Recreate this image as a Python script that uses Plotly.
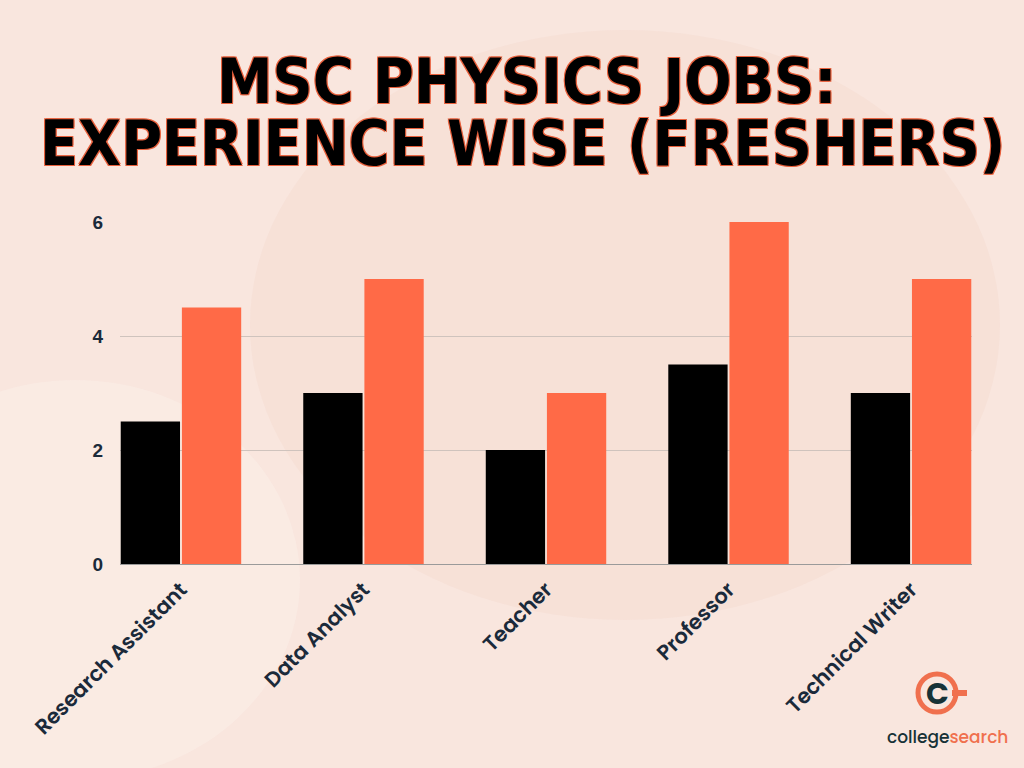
import plotly.graph_objects as go

categories = ["Research Assistant", "Data Analyst", "Teacher", "Professor", "Technical Writer"]
series_min = [2.5, 3, 2, 3.5, 3]
series_max = [4.5, 5, 3, 6, 5]
y_ticks = [0, 2, 4, 6]

W, H = 1024, 768
L, R, T, B = 120, 52, 222, 204

def px(x):
    return (x - L) / (W - L - R)

def py(y):
    return (H - B - y) / (H - T - B)

fig = go.Figure()
fig.add_trace(go.Bar(x=categories, y=series_min, name="Minimum", marker=dict(color="#000000", line=dict(width=0))))
fig.add_trace(go.Bar(x=categories, y=series_max, name="Maximum", marker=dict(color="#ff6a47", line=dict(width=0))))

title_font = dict(family="DejaVu Sans Condensed, DejaVu Sans, sans-serif",
                  size=62, color="#000000", weight="bold",
                  shadow="1px 1px 0 #e8603c, -1px -1px 0 #e8603c, 1px -1px 0 #e8603c, -1px 1px 0 #e8603c")

def cond(s):
    return "<span style='font-stretch:condensed'>" + s + "</span>"

annotations = [
    dict(text=cond("MSC PHYSICS JOBS:"), x=px(527), y=py(81), xref="paper", yref="paper",
         showarrow=False, font=title_font, xanchor="center", yanchor="middle"),
    dict(text=cond("EXPERIENCE WISE (FRESHERS)"), x=px(522), y=py(143), xref="paper", yref="paper",
         showarrow=False, font=title_font, xanchor="center", yanchor="middle"),
    dict(text="C", x=px(937), y=py(693), xref="paper", yref="paper", showarrow=False,
         font=dict(family="Poppins, Lato, Open Sans, sans-serif", size=30, color="#173237", weight="bold"),
         xanchor="center", yanchor="middle"),
    dict(text="<span style='color:#173237'>college</span><span style='color:#f0704e'>search</span>",
         x=px(947), y=py(737), xref="paper", yref="paper", showarrow=False,
         font=dict(family="Poppins, Lato, Open Sans, sans-serif", size=17, color="#173237", weight=500),
         xanchor="center", yanchor="middle"),
]

shapes = [
    dict(type="circle", xref="paper", yref="paper", x0=px(250), x1=px(1000), y0=py(620), y1=py(30),
         fillcolor="#f2cdbd", opacity=0.2, line=dict(width=0), layer="below"),
    dict(type="circle", xref="paper", yref="paper", x0=px(-150), x1=px(300), y0=py(780), y1=py(380),
         fillcolor="#fdf3ef", opacity=0.35, line=dict(width=0), layer="below"),
    dict(type="line", xref="paper", yref="paper", x0=px(952), x1=px(967), y0=py(693), y1=py(693),
         line=dict(color="#f0704e", width=6)),
    dict(type="circle", xref="paper", yref="paper", x0=px(918), x1=px(956), y0=py(712), y1=py(674),
         fillcolor="rgba(0,0,0,0)", line=dict(color="#f0704e", width=5)),
]

fig.update_layout(
    width=W, height=H,
    margin=dict(l=L, r=R, t=T, b=B, autoexpand=False),
    paper_bgcolor="#f9e6de",
    plot_bgcolor="rgba(0,0,0,0)",
    barmode="group", bargap=0.33, bargroupgap=0.03,
    showlegend=False,
    annotations=annotations,
    shapes=shapes,
    xaxis=dict(range=[-0.334, 4.334], tickangle=-45, showgrid=False, ticks="",
               showline=True, linecolor="#9a9a9a", linewidth=1, ticklabelstandoff=4,
               tickfont=dict(family="Poppins, Open Sans, sans-serif", size=21, color="#1b2a3a", weight=600)),
    yaxis=dict(range=[0, 6], tickvals=y_ticks, showgrid=True, gridcolor="#cfc3bd", gridwidth=1,
               zeroline=True, zerolinecolor="#9a9a9a", zerolinewidth=1, ticks="", ticklabelstandoff=16,
               tickfont=dict(family="Liberation Sans, Arial, sans-serif", size=19, color="#1b2a3a", weight="bold")),
)

fig.write_html("out.html", config={"displayModeBar": False},
               post_script="document.body.style.margin='0';document.body.style.overflow='hidden';")
